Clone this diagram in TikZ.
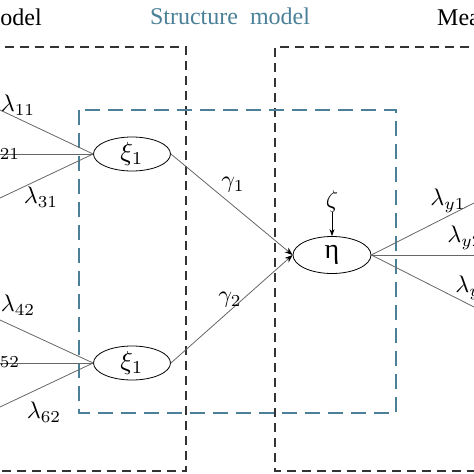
\documentclass[tikz,border=0pt]{standalone}
\usepackage{fontspec}
\setmainfont{Liberation Serif}
\usepackage{graphicx}
\usepackage{xcolor}
\usetikzlibrary{shapes,arrows.meta,positioning}
\definecolor{structblue}{RGB}{74,128,152}
\newcommand{\latentlbl}[1]{\scalebox{2.6}{$#1$}}

\begin{document}
\begin{tikzpicture}[x=1pt, y=-1pt,
    latent/.style={draw, ellipse, thick, minimum width=77pt, minimum height=34pt, inner sep=0pt},
    lbl/.style={scale=2.4, inner sep=0pt},
    title/.style={font=\fontsize{24}{28}\selectfont, inner sep=0pt},
    load/.style={draw=black!60, line width=0.8pt},
    gpath/.style={draw=black!60, line width=0.8pt, -{Stealth[length=8pt,width=6pt,black]}},
    outerbox/.style={draw=black!80, line width=1.4pt, dash pattern=on 9pt off 6pt},
    innerbox/.style={draw=structblue, line width=1.8pt, dash pattern=on 15pt off 8pt}]
  \clip (0,0) rectangle (474,474);

  % boxes
  \draw[outerbox] (-10,47) -- (186,47) -- (186,471) -- (-10,471);
  \draw[outerbox] (484,47) -- (275,47) -- (275,471) -- (484,471);
  \draw[innerbox] (79,110) rectangle (396,413);

  \node[title, anchor=east] (leftttl) at (42,17) {Measurement model};
  \node[title, text=structblue] (structttl) at (230,16) {Structure\enspace model};
  \node[title, anchor=west] (rightttl) at (437,17) {Measurement model};

  % latent variables
  \node[latent] (xia) at (132,154) {\latentlbl{\xi_1}};
  \node[latent] (xib) at (132,363) {\latentlbl{\xi_1}};
  \node[latent, font=\fontsize{28}{30}\selectfont, minimum width=78pt, minimum height=37pt] (eta) at (332,255) {η};
  \node[lbl] (zeta) at (332,201) {$\zeta$};
  \draw[-{Stealth[length=7pt,width=5pt]}, semithick] (zeta) -- (eta);

  % indicators
  \coordinate (x1) at (0,110);
  \coordinate (x2) at (0,154);
  \coordinate (x3) at (0,198);
  \coordinate (x4) at (0,320);
  \coordinate (x5) at (0,363);
  \coordinate (x6) at (0,407);
  \coordinate (y1) at (474,203);
  \coordinate (y2) at (474,255);
  \coordinate (y3) at (474,307);

  \foreach \i in {x1,x2,x3} \draw[load] (\i) -- (xia.west);
  \foreach \i in {x4,x5,x6} \draw[load] (\i) -- (xib.west);
  \foreach \i in {y1,y2,y3} \draw[load] (eta.east) -- (\i);

  \node[lbl] (l11) at (18,105) {$\lambda_{11}$};
  \node[lbl] (l21) at (3,149) {$\lambda_{21}$};
  \node[lbl] (l31) at (41,197) {$\lambda_{31}$};
  \node[lbl] (l42) at (18,305) {$\lambda_{42}$};
  \node[lbl] (l52) at (3,357) {$\lambda_{52}$};
  \node[lbl] (l62) at (44,412) {$\lambda_{62}$};
  \node[lbl] (ly1) at (448,201) {$\lambda_{y1}$};
  \node[lbl] (ly2) at (465,238) {$\lambda_{y2}$};
  \node[lbl] (ly3) at (473,288) {$\lambda_{y3}$};

  % structural paths
  \draw[gpath] (xia.east) -- (eta.west);
  \draw[gpath] (xib.east) -- (eta.west);
  \node[lbl] (g1) at (233,185) {$\gamma_1$};
  \node[lbl] (g2) at (230,300) {$\gamma_2$};
\end{tikzpicture}
\end{document}
